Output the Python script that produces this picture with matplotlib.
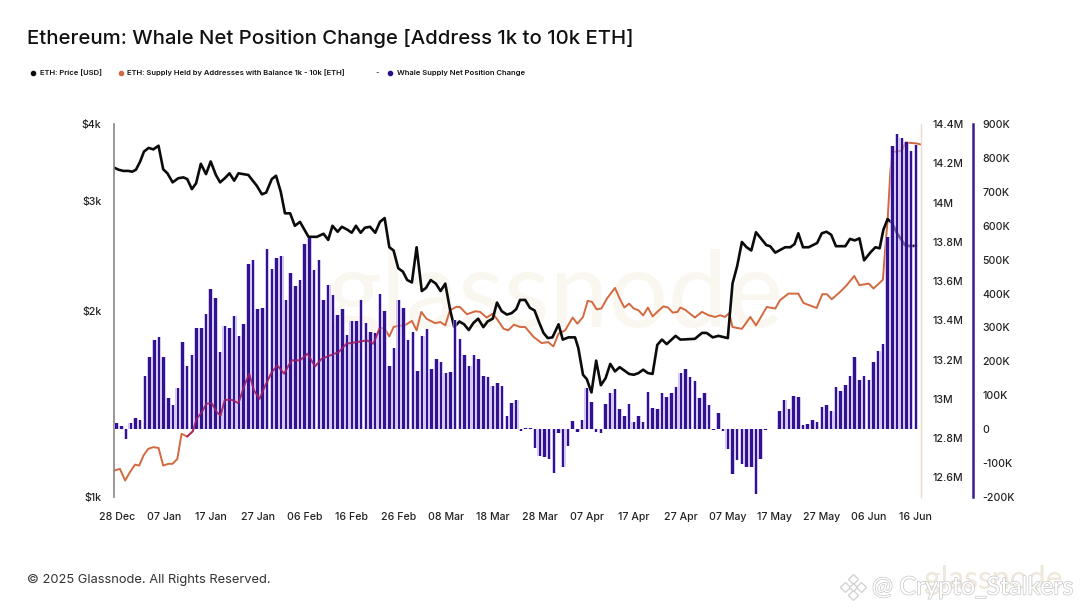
# -*- coding: utf-8 -*-
import matplotlib
matplotlib.use('Agg')
import matplotlib.pyplot as plt
import matplotlib.patheffects as pe
from matplotlib.lines import Line2D

plt.rcParams['font.family'] = ['Inter', 'DejaVu Sans']

# daily bars, first one is 28 Dec, values in thousands of ETH
net_change = [18, 10, -30, 18, 32, 28, 158, 214, 263, 273, 214, 91, 72, 121, 257, 185, 219, 297, 297, 340,
              413, 386, 229, 303, 298, 334, 275, 311, 487, 500, 354, 358, 532, 473, 506, 511, 381, 460, 423, 440,
              546, 563, 470, 500, 381, 426, 395, 338, 355, 278, 320, 320, 380, 313, 288, 285, 399, 350, 187, 238,
              381, 357, 263, 286, 173, 275, 295, 177, 206, 198, 165, 169, 322, 267, 219, 187, 219, 206, 158, 153,
              128, 136, 128, 39, 77, 87, -5, 3, 3, -55, -78, -83, -88, -130, -10, -112, -49, 23, -8, 28,
              120, 80, -8, -10, 73, 106, 118, 60, 39, 73, 20, 39, 22, 109, 62, 59, 107, 96, 108, 124,
              165, 177, 155, 141, 91, 106, 70, -2, 49, -4, -58, -133, -92, -102, -112, -112, -192, -88, -3, 1,
              2, 53, 85, 60, 99, 96, 12, 15, 28, 20, 64, 71, 54, 124, 113, 131, 158, 213, 144, 158,
              146, 198, 232, 250, 568, 834, 871, 858, 848, 819, 839]

# price line, day number since 28 Dec and price in thousands of USD
price_days = [-0.5, 0.4, 1.4, 2.5, 3.3, 4.1, 5.0, 5.8, 6.8, 7.8, 8.9, 9.9, 10.8, 11.9, 13.1, 14.2, 15.0, 16.0, 16.9,
              17.9, 19.0, 20.0, 21.1, 22.0, 23.0, 24.0, 25.0, 25.9, 27.0, 28.0, 29.8, 30.9, 31.8, 33.0, 33.9, 34.9,
              35.8, 36.9, 37.9, 39.0, 40.8, 42.6, 44.0, 45.0, 45.9, 47.0, 47.9, 49.1, 50, 50.9, 51.9, 52.8, 53.9,
              55.0, 56.0, 57.0, 58.0, 58.9, 59.9, 60.9, 61.8, 62.8, 63.8, 64.9, 65.8, 66.8, 67.9, 68.9, 69.9, 70.9,
              71.8, 72.9, 73.9, 74.9, 75.9, 76.9, 78.0, 78.9, 80.0, 80.9, 81.9, 83.0, 84.0, 85.0, 85.8, 86.9, 87.9,
              88.9, 89.9, 90.8, 91.7, 92.7, 94.0, 94.9, 96.1, 97.5, 98.2, 99.2, 100, 101, 102, 103, 104, 105, 106,
              107, 108, 109, 110, 111, 112, 113, 114, 115, 116, 117, 118.9, 119.9, 123.0, 124.5, 125.5, 126.8, 128,
              130, 131, 132, 133, 134, 135, 136, 138.2, 139, 140.1, 142.2, 143.3, 144.2, 145, 146, 147.2, 149, 150,
              151, 152, 153, 155, 156, 157, 158, 159, 160.3, 161.4, 162.3, 163.1, 164, 164.9, 166, 167.7, 168.8, 170]
price = [3.40, 3.375, 3.36, 3.36, 3.35, 3.375, 3.48, 3.61, 3.66, 3.64, 3.69, 3.38, 3.33, 3.22, 3.27, 3.28, 3.26, 3.14,
         3.21, 3.45, 3.32, 3.48, 3.31, 3.22, 3.27, 3.33, 3.24, 3.33, 3.32, 3.31, 3.18, 3.08, 3.10, 3.26, 3.30, 3.11,
         2.87, 2.87, 2.74, 2.78, 2.63, 2.63, 2.66, 2.60, 2.74, 2.68, 2.73, 2.70, 2.67, 2.74, 2.67, 2.72, 2.73,
         2.67, 2.78, 2.82, 2.53, 2.50, 2.34, 2.31, 2.24, 2.22, 2.53, 2.15, 2.175, 2.24, 2.21, 2.15, 2.21, 2.01,
         1.88, 1.92, 1.90, 1.86, 1.91, 1.94, 1.88, 1.92, 1.94, 2.06, 1.995, 1.97, 1.98, 2.01, 2.08, 2.08, 2.02,
         2.00, 1.91, 1.84, 1.805, 1.81, 1.90, 1.795, 1.81, 1.81, 1.74, 1.575, 1.55, 1.475, 1.66, 1.515, 1.555, 1.64, 1.595,
         1.62, 1.60, 1.58, 1.575, 1.585, 1.605, 1.585, 1.58, 1.76, 1.795, 1.765, 1.82, 1.795, 1.80, 1.84, 1.84, 1.81, 1.82,
         1.805, 2.21, 2.36, 2.58, 2.53, 2.50, 2.675, 2.55, 2.54, 2.48, 2.53, 2.53, 2.56, 2.665, 2.53, 2.53, 2.57, 2.665,
         2.68, 2.65, 2.54, 2.54, 2.61, 2.595, 2.615, 2.41, 2.48, 2.53, 2.52, 2.70, 2.81, 2.77, 2.665, 2.55, 2.54, 2.545]

# supply held by 1k-10k addresses, in millions of ETH
supply_days = [-0.5, 0.7, 1.8, 2.8, 3.9, 4.8, 5.7, 6.7, 7.8, 8.9, 9.9, 11, 11.9, 12.9, 13.8, 15, 16.2, 17, 18.1, 19.1,
               20.2, 21.3, 22.1, 23, 24.5, 25.9, 27.3, 28.2, 29.2, 30.4, 31.6, 33, 34.2, 35.6, 37.2, 39, 40.6, 42.2,
               43.6, 45.4, 47.2, 48.9, 51.1, 53.2, 54.6, 55.9, 56.9, 58, 58.9, 60.3, 60.9, 62.8, 63.8, 64.8, 65.9,
               67.7, 68.9, 69.9, 70.9, 72.2, 73, 74.5, 76.3, 77.3, 78.7, 80, 81, 82.3, 83.3, 84.5, 85.8, 86.9, 88.7,
               90.4, 91.8, 92.9, 94, 95.4, 97, 98, 99.2, 100.2, 101.1, 102.1, 103.1, 104.3, 106, 107, 108, 109, 110,
               111, 112, 113, 114, 115, 116.3, 117.3, 118.3, 119.3, 119.9, 120.9, 123, 124.5, 125.9, 127.3, 128.4,
               129.4, 130.3, 131, 132, 133, 134.8, 136, 138.3, 140.1, 141.1, 142.9, 145, 146.1, 148.9, 150.1, 151.1,
               152.1, 153.9, 155.3, 156.9, 158, 160, 161, 163, 163.4, 164, 164.6, 165.1, 166.1, 167.1, 167.8, 170.1, 171]
supply = [12.635, 12.643, 12.584, 12.626, 12.665, 12.66, 12.711, 12.745, 12.754, 12.75, 12.66, 12.669, 12.669, 12.694,
          12.822, 12.808, 12.835, 12.898, 12.932, 12.975, 12.978, 12.932, 12.915, 12.995, 12.995, 12.978, 13.077, 13.128,
          13.043, 13.0, 13.068, 13.136, 13.17, 13.128, 13.196, 13.196, 13.23, 13.165, 13.204, 13.221, 13.238, 13.281,
          13.289, 13.298, 13.281, 13.357, 13.362, 13.318, 13.366, 13.374, 13.369, 13.397, 13.349, 13.443, 13.408,
          13.386, 13.391, 13.374, 13.451, 13.468, 13.468, 13.431, 13.446, 13.443, 13.414, 13.434, 13.403, 13.357, 13.349,
          13.378, 13.366, 13.366, 13.315, 13.284, 13.289, 13.267, 13.332, 13.349, 13.414, 13.383, 13.417, 13.499, 13.494,
          13.456, 13.46, 13.511, 13.565, 13.511, 13.465, 13.485, 13.46, 13.451, 13.425, 13.465, 13.42, 13.443, 13.471,
          13.465, 13.439, 13.443, 13.465, 13.454, 13.414, 13.443, 13.426, 13.417, 13.426, 13.417, 13.437, 13.366, 13.361,
          13.357, 13.417, 13.374, 13.468, 13.46, 13.502, 13.536, 13.536, 13.488, 13.463, 13.533, 13.533, 13.507, 13.545,
          13.579, 13.626, 13.579, 13.587, 13.562, 13.607, 13.74, 13.91, 14.165, 14.259, 14.259, 14.267, 14.306, 14.301, 14.296]

date_labels = ['28 Dec', '07 Jan', '17 Jan', '27 Jan', '06 Feb', '16 Feb', '26 Feb', '08 Mar', '18 Mar', '28 Mar',
               '07 Apr', '17 Apr', '27 Apr', '07 May', '17 May', '27 May', '06 Jun', '16 Jun']
price_ticks = [1, 2, 3, 4]
price_labels = ['$1k', '$2k', '$3k', '$4k']
supply_ticks = [12.6, 12.8, 13.0, 13.2, 13.4, 13.6, 13.8, 14.0, 14.2, 14.4]
supply_labels = ['12.6M', '12.8M', '13M', '13.2M', '13.4M', '13.6M', '13.8M', '14M', '14.2M', '14.4M']
net_ticks = [-200, -100, 0, 100, 200, 300, 400, 500, 600, 700, 800, 900]
net_labels = ['-200K', '-100K', '0', '100K', '200K', '300K', '400K', '500K', '600K', '700K', '800K', '900K']

BLACK = '#0b0b0b'
ORANGE = '#d2693f'
PURPLE = '#2c0d8c'
W, H = 1088.0, 612.0

fig = plt.figure(figsize=(10.88, 6.12), dpi=100)
rect = [114 / W, (H - 497) / H, (921 - 114) / W, (497 - 124) / H]

# supply at the bottom, then price, bars over both like in the original
ax = fig.add_axes(rect)
ax2 = fig.add_axes(rect, sharex=ax)
ax3 = fig.add_axes(rect, sharex=ax)
# only to show the supply line through the bars in january and february
ax4 = fig.add_axes(rect, sharex=ax, sharey=ax2)
ax2.set_zorder(1)
ax.set_zorder(2)
ax3.set_zorder(3)
ax4.set_zorder(4)
for a in [ax, ax2, ax3]:
    a.patch.set_visible(False)
ax4.set_axis_off()

ax2.plot(supply_days, supply, color=ORANGE, lw=1.4, solid_joinstyle='round')
ax.plot(price_days, price, color=BLACK, lw=1.9, solid_joinstyle='round')
ax4.plot(supply_days[15:46], supply[15:46], color='#a11f68', lw=1.3, alpha=0.85, solid_joinstyle='round')

days = list(range(len(net_change)))
ax3.bar(days, net_change, width=0.98, color='#b9a4ee', alpha=0.6, lw=0)
ax3.bar(days, net_change, width=0.52, color=PURPLE, alpha=0.97, lw=0)

ax.set_xlim(-0.57, 171.1)
ax.set_yscale('log')
ax.set_ylim(1, 4)
ax2.set_ylim(12.5, 14.4)
ax3.set_ylim(-200, 900)

ax.set_xticks(list(range(0, 171, 10)))
ax.set_xticklabels(date_labels, fontsize=7.6, color='#222222', fontweight='medium')
ax.tick_params(axis='x', length=0, pad=11)
ax.set_yticks(price_ticks)
ax.set_yticklabels(price_labels, fontsize=7.6, color='#222222', fontweight='medium')
ax.minorticks_off()
ax.tick_params(axis='y', length=0, pad=9)

ax2.yaxis.tick_right()
ax2.set_yticks(supply_ticks)
ax2.set_yticklabels(supply_labels, fontsize=7.6, color='#222222', fontweight='medium')
ax2.tick_params(axis='y', length=0, pad=8)
ax2.tick_params(axis='x', labelbottom=False, length=0)

# moving the spine resets the ticks, so it has to come first
ax3.spines['right'].set_position(('axes', (973 - 114) / (921 - 114)))
ax3.spines['right'].set_color('#3d1e8c')
ax3.spines['right'].set_linewidth(1.8)
ax3.yaxis.tick_right()
ax3.set_yticks(net_ticks)
ax3.set_yticklabels(net_labels, fontsize=7.6, color='#222222', fontweight='medium')
ax3.tick_params(axis='y', length=0, pad=7)
ax3.tick_params(axis='x', labelbottom=False, length=0)

for a in [ax, ax2, ax3]:
    a.spines['top'].set_visible(False)
    a.spines['bottom'].set_visible(False)
for a in [ax2, ax3]:
    a.spines['left'].set_visible(False)
ax.spines['left'].set_color('#8a8480')
ax.spines['left'].set_linewidth(1.2)
ax.spines['right'].set_visible(False)
ax2.spines['right'].set_color('#ecdccb')
ax2.spines['right'].set_linewidth(1.0)

# big pale watermark behind everything
fig.text(555 / W, 1 - 298 / H, 'glassnode', fontsize=76, family='Lato', color='#faf7f0',
         ha='center', va='center', zorder=0)

# title and legend
fig.text(27 / W, 1 - 38 / H, 'Ethereum: Whale Net Position Change [Address 1k to 10k ETH]',
         fontsize=14.65, fontweight='medium', color='#111111', va='center')


def legend_item(x_dot, x_text, label, color):
    fig.add_artist(Line2D([x_dot / W], [1 - 73 / H], marker='o', ms=3, color=color, lw=0,
                          transform=fig.transFigure))
    fig.text(x_text / W, 1 - 73 / H, label, fontsize=5.5, fontweight='semibold', color='#111111', va='center')


legend_item(33, 40, 'ETH: Price [USD]', BLACK)
legend_item(121, 127, 'ETH: Supply Held by Addresses with Balance 1k - 10k [ETH]', ORANGE)
legend_item(390, 397, 'Whale Supply Net Position Change', PURPLE)
fig.text(377 / W, 1 - 73 / H, '-', fontsize=5.5, color='#111111', va='center', ha='center')

# footer
fig.text(27 / W, 1 - 580 / H, '© 2025 Glassnode. All Rights Reserved.', fontsize=9.3, color='#333333', va='center')
fig.text(993 / W, 1 - 580 / H, 'glassnode', fontsize=23, family='Lato', color='#efe7da', ha='center', va='center')
fig.text(872 / W, 1 - 587 / H, '@ Crypto_Stalkers', fontsize=18, family='Lato', color='white', va='center',
         path_effects=[pe.withStroke(linewidth=1.0, foreground='#c6c6c6')])

# binance style diamond, just a few small grey diamonds
for dx, dy, size in [(0, -8, 5), (-8, 0, 5), (8, 0, 5), (0, 8, 5), (0, 0, 4)]:
    fig.add_artist(Line2D([(853 + dx) / W], [1 - (587 + dy) / H], marker='D', ms=size, mfc='white',
                          mec='#cfcfcf', mew=0.9, lw=0, transform=fig.transFigure))

fig.savefig('out.png', dpi=100)
